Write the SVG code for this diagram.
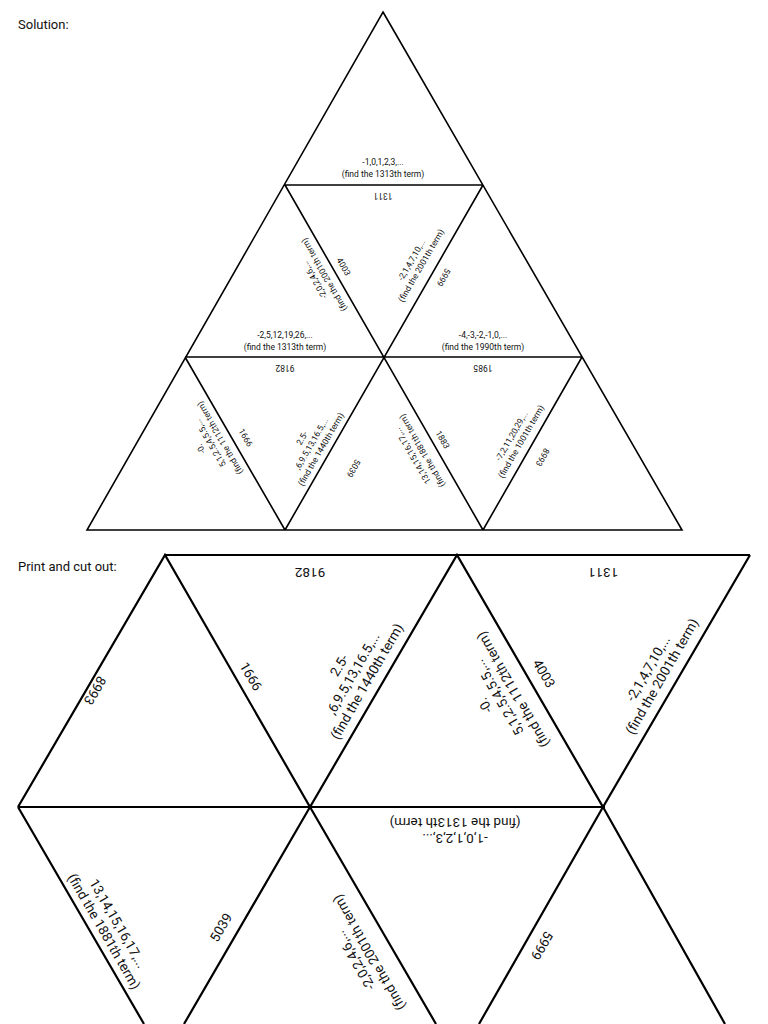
<svg xmlns="http://www.w3.org/2000/svg" width="768" height="1024" viewBox="0 0 768 1024">
<style>
.l{stroke:#000;stroke-width:1.6;fill:none}
.b{stroke:#000;stroke-width:2.2;fill:none}
text{font-family:Roboto,"Liberation Sans",sans-serif;fill:#111;text-anchor:middle;dominant-baseline:middle}
.s{font-size:8.5px}
.m{font-size:13.5px}
.h{font-size:13px;text-anchor:start}
</style>
<rect width="768" height="1024" fill="#fff"/>
<text class="h" x="18" y="26">Solution:</text>
<text class="h" x="18" y="568">Print and cut out:</text>
<g id="connectors">
<path class="l" d="M383,12 L682,530 L87,530 Z M285,185 H483 M185,357 H582 M285,185 L483,530 M483,185 L285,530 M185,357 L285,530 M582,357 L483,530"/>
<path class="b" d="M165,555 H750 M18,807 H605 M18,807 L165,555 L310,807 L457,555 L603,807 L750,555 M18,807 L144,1024 M310,807 L184,1024 M310,807 L436,1024 M603,807 L479,1024 M603,807 L725,1024"/>
</g>
<g id="solution-text" class="s">
<text x="383" y="163" class="s">-1,0,1,2,3,...</text>
<text x="383" y="175" class="s">(find the 1313th term)</text>
<text transform="translate(383,195) rotate(180)" class="s">1311</text>
<g transform="translate(320,277) rotate(240)"><text y="-5.5" class="s">-2,0,2,4,6,...</text><text y="5.5" class="s">(find the 2001th term)</text></g>
<text transform="translate(343,267) rotate(60)" class="s">4003</text>
<g transform="translate(417,263) rotate(-60)"><text y="-5.5" class="s">-2,1,4,7,10,...</text><text y="5.5" class="s">(find the 2001th term)</text></g>
<text transform="translate(443,277) rotate(120)" class="s">5999</text>
<text x="285" y="336" class="s">-2,5,12,19,26,...</text>
<text x="285" y="348" class="s">(find the 1313th term)</text>
<text x="483" y="336" class="s">-4,-3,-2,-1,0,...</text>
<text x="483" y="348" class="s">(find the 1990th term)</text>
<text transform="translate(285,367) rotate(180)" class="s">9182</text>
<text transform="translate(483,367) rotate(180)" class="s">1985</text>
<text transform="translate(245,438) rotate(60)" class="s">1666</text>
<g transform="translate(211,443) rotate(240)"><text y="-11" class="s">-0.</text><text y="0" class="s">5,1,2.5,4,5.5,...</text><text y="11" class="s">(find the 1112th term)</text></g>
<g transform="translate(312,444) rotate(-60)"><text y="-11" class="s">2.5-</text><text y="0" class="s">,6,9.5,13,16.5,...</text><text y="11" class="s">(find the 1440th term)</text></g>
<text transform="translate(353,468) rotate(120)" class="s">5039</text>
<g transform="translate(418,453) rotate(240)"><text y="-5.5" class="s">13,14,15,16,17,...</text><text y="5.5" class="s">(find the 1881th term)</text></g>
<text transform="translate(442,440) rotate(60)" class="s">1883</text>
<g transform="translate(517,439) rotate(-60)"><text y="-5.5" class="s">-7,2,11,20,29,...</text><text y="5.5" class="s">(find the 1001th term)</text></g>
<text transform="translate(542,457) rotate(120)" class="s">8993</text>
</g>
<g id="cutout-text" class="m">
<text transform="translate(310,572) rotate(180)" class="m">9182</text>
<text transform="translate(603,572) rotate(180)" class="m">1311</text>
<text transform="translate(94,690) rotate(120)" class="m">8993</text>
<text transform="translate(250,677) rotate(60)" class="m">1666</text>
<g transform="translate(354,674) rotate(-60)"><text y="-16" class="m">2.5-</text><text y="0" class="m">,6,9.5,13,16.5,...</text><text y="16" class="m">(find the 1440th term)</text></g>
<text transform="translate(543,674) rotate(60)" class="m">4003</text>
<g transform="translate(500,697) rotate(240)"><text y="-16" class="m">-0.</text><text y="0" class="m">5,1,2.5,4,5.5,...</text><text y="16" class="m">(find the 1112th term)</text></g>
<g transform="translate(656,673) rotate(-60)"><text y="-8" class="m">-2,1,4,7,10,...</text><text y="8" class="m">(find the 2001th term)</text></g>
<text transform="translate(455,822) rotate(180)" class="m">(find the 1313th term)</text>
<text transform="translate(455,838) rotate(180)" class="m">-1,0,1,2,3,...</text>
<g transform="translate(110,928) rotate(60)"><text y="-8" class="m">13,14,15,16,17,...</text><text y="8" class="m">(find the 1881th term)</text></g>
<text transform="translate(222,928) rotate(-60)" class="m">5039</text>
<g transform="translate(363,956) rotate(240)"><text y="-8" class="m">-2,0,2,4,6,...</text><text y="8" class="m">(find the 2001th term)</text></g>
<text transform="translate(541,945) rotate(120)" class="m">5999</text>
</g>
</svg>
